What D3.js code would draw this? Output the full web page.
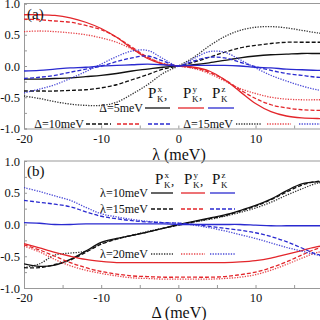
<!DOCTYPE html>
<html><head><meta charset="utf-8">
<script src="https://cdn.jsdelivr.net/npm/d3@7"></script>
<style>
body{margin:0;background:#fff;}
svg{display:block;font-family:"Liberation Serif","Times New Roman",serif;}
</style></head>
<body><svg id="c" width="320" height="320"></svg>
<script>
// ---------- DATA ----------
const grid = [-20,-18,-16,-14,-12,-10,-8,-6,-4,-2,0,2,4,6,8,10,12,14,16,18,20];
// Panel (a): vs lambda (meV), Delta = 5, 10, 15 meV
const aPx5  = [-0.21,-0.21,-0.2,-0.19,-0.17,-0.15,-0.12,-0.08,-0.05,-0.02,0,0.02,0.05,0.09,0.13,0.16,0.18,0.19,0.2,0.2,0.2];
const aPx10 = [-0.4,-0.4,-0.4,-0.39,-0.38,-0.35,-0.3,-0.22,-0.14,-0.05,0,0.06,0.14,0.22,0.29,0.33,0.36,0.38,0.38,0.38,0.38];
const aPx15 = [-0.48,-0.52,-0.57,-0.61,-0.63,-0.63,-0.58,-0.45,-0.3,-0.12,0,0.14,0.32,0.47,0.57,0.62,0.63,0.61,0.57,0.53,0.5];
const aPy5  = [0.82,0.82,0.81,0.77,0.7,0.6,0.46,0.28,0.12,0.03,0,-0.02,-0.08,-0.22,-0.41,-0.6,-0.73,-0.8,-0.83,-0.84,-0.84];
const aPy10 = [0.75,0.74,0.72,0.7,0.65,0.58,0.46,0.3,0.14,0.04,0,-0.03,-0.1,-0.22,-0.38,-0.52,-0.62,-0.67,-0.7,-0.71,-0.71];
const aPy15 = [0.55,0.56,0.55,0.53,0.5,0.45,0.38,0.27,0.14,0.04,0,-0.04,-0.12,-0.24,-0.36,-0.44,-0.5,-0.53,-0.54,-0.54,-0.54];
const aPz5  = [-0.08,-0.07,-0.05,-0.03,-0.02,0.0,0.01,0.02,0.03,0.02,0,0.01,0.01,0.01,0,-0.02,-0.03,-0.05,-0.06,-0.07,-0.07];
const aPz10 = [-0.2,-0.18,-0.15,-0.1,-0.05,0.0,0.07,0.13,0.16,0.08,0,0.08,0.14,0.13,0.06,-0.01,-0.07,-0.12,-0.15,-0.18,-0.19];
const aPz15 = [-0.43,-0.37,-0.3,-0.2,-0.09,0.03,0.15,0.24,0.25,0.12,0,0.12,0.23,0.22,0.1,-0.03,-0.15,-0.24,-0.32,-0.38,-0.41];
// Panel (b): vs Delta (meV), lambda = 10, 15, 20 meV
const bPx10 = [-0.62,-0.66,-0.64,-0.55,-0.42,-0.28,-0.22,-0.17,-0.12,-0.06,0.0,0.05,0.1,0.15,0.22,0.3,0.4,0.53,0.64,0.67,0.66];
const bPx15 = [-0.68,-0.68,-0.63,-0.56,-0.44,-0.31,-0.23,-0.17,-0.12,-0.06,-0.01,0.04,0.09,0.14,0.21,0.29,0.39,0.51,0.62,0.68,0.68];
const bPx20 = [-0.68,-0.62,-0.48,-0.45,-0.42,-0.3,-0.23,-0.17,-0.11,-0.06,-0.01,0.04,0.08,0.13,0.19,0.26,0.35,0.46,0.56,0.65,0.67];
const bPy10 = [-0.3,-0.37,-0.44,-0.5,-0.55,-0.58,-0.6,-0.6,-0.6,-0.6,-0.6,-0.6,-0.6,-0.6,-0.59,-0.57,-0.53,-0.47,-0.41,-0.35,-0.32];
const bPy15 = [-0.32,-0.4,-0.5,-0.6,-0.68,-0.74,-0.78,-0.81,-0.82,-0.83,-0.83,-0.83,-0.83,-0.82,-0.79,-0.75,-0.68,-0.59,-0.48,-0.38,-0.34];
const bPy20 = [-0.34,-0.43,-0.55,-0.65,-0.72,-0.77,-0.81,-0.84,-0.85,-0.86,-0.86,-0.86,-0.86,-0.85,-0.83,-0.79,-0.72,-0.63,-0.53,-0.44,-0.4];
const bPz10 = [0.03,0.02,0.0,0.0,0.01,0.01,0.01,0.01,0.01,0.01,0.0,0.0,0.0,0.0,0.0,-0.01,-0.02,-0.02,-0.02,-0.02,-0.02];
const bPz15 = [0.38,0.35,0.32,0.28,0.2,0.13,0.09,0.06,0.04,0.03,0.02,0.0,-0.03,-0.06,-0.09,-0.13,-0.19,-0.27,-0.37,-0.47,-0.52];
const bPz20 = [0.58,0.52,0.45,0.38,0.27,0.17,0.12,0.08,0.05,0.03,0.02,-0.01,-0.05,-0.1,-0.16,-0.22,-0.29,-0.36,-0.42,-0.48,-0.52];

const yTicks = [-1,-0.5,0,0.5,1];
const xTicks = [-20,-10,0,10];
const xMinor = [-20,-15,-10,-5,0,5,10,15,20];
const yMinor = [-1,-0.75,-0.5,-0.25,0,0.25,0.5,0.75,1];
const legendA1 = ["Δ=5meV"];
const legendA2 = ["Δ=10meV","Δ=15meV"];
const legendB = ["λ=10meV","λ=15meV","λ=20meV"];
const compLabels = ["x","y","z"];

// ---------- STYLE ----------
const colors = ["#111111","#e3262b","#2a2ad0"];
const dashes = [null,"4,2","1.3,1.3"];
const svg = d3.select("#c");

const x = d3.scaleLinear().domain([-20,20]).range([24,332.7]);
const ya = d3.scaleLinear().domain([-1,1]).range([128.5,3.5]);
const yb = d3.scaleLinear().domain([-1,1]).range([288,161]);

svg.append("defs").append("clipPath").attr("id","clip")
  .append("rect").attr("x",24).attr("y",0).attr("width",300).attr("height",320);

function panel(y, series, label, title, titleY){
  const top = y(1), bot = y(-1);
  svg.append("line").attr("x1",24).attr("x2",320).attr("y1",top).attr("y2",top)
    .attr("stroke","#999").attr("stroke-width",1);
  svg.append("g").attr("transform",`translate(0,${bot})`)
    .call(d3.axisBottom(x).tickValues(xMinor).tickSize(-3).tickFormat(""))
    .call(g=>{g.select(".domain").attr("stroke","#999");g.selectAll("line").attr("stroke","#999");});
  svg.append("g").attr("transform",`translate(0,${bot})`)
    .call(d3.axisBottom(x).tickValues(xTicks).tickSize(0).tickPadding(5.5).tickFormat(d=>String(d)))
    .call(g=>{g.select(".domain").remove();g.selectAll("text").attr("font-size",12.5).attr("fill","#111")
      .attr("font-family","Liberation Serif");});
  svg.append("g").attr("transform","translate(24,0)")
    .call(d3.axisLeft(y).tickValues(yMinor).tickSize(-3).tickFormat(""))
    .call(g=>{g.select(".domain").attr("stroke","#999");g.selectAll("line").attr("stroke","#999");});
  svg.append("g").attr("transform","translate(24,0)")
    .call(d3.axisLeft(y).tickValues(yTicks).tickSize(0).tickPadding(4).tickFormat(d=>d.toFixed(1)))
    .call(g=>{g.select(".domain").remove();g.selectAll("text").attr("font-size",12.5).attr("fill","#111")
      .attr("font-family","Liberation Serif");});
  const line = d3.line().x((d,i)=>x(grid[i])).y(d=>y(d)).curve(d3.curveCatmullRom.alpha(0.5));
  const gC = svg.append("g").attr("clip-path","url(#clip)");
  series.forEach(s=>{
    gC.append("path").datum(s.v).attr("d",line).attr("fill","none")
      .attr("stroke",colors[s.c]).attr("stroke-width",1.3)
      .attr("stroke-opacity", s.d===2?0.85:1)
      .attr("stroke-dasharray",dashes[s.d]);
  });
  svg.append("text").attr("x",27).attr("y",top+15).attr("font-size",15).attr("fill","#111").text(label);
  svg.append("text").attr("x",179).attr("y",titleY).attr("text-anchor","middle")
    .attr("font-size",16).attr("fill","#111").text(title);
}

panel(ya,[
 {v:aPx5,c:0,d:0},{v:aPx10,c:0,d:1},{v:aPx15,c:0,d:2},
 {v:aPy5,c:1,d:0},{v:aPy10,c:1,d:1},{v:aPy15,c:1,d:2},
 {v:aPz5,c:2,d:0},{v:aPz10,c:2,d:1},{v:aPz15,c:2,d:2}
],"(a)","λ (meV)",160);
panel(yb,[
 {v:bPx10,c:0,d:0},{v:bPx15,c:0,d:1},{v:bPx20,c:0,d:2},
 {v:bPy10,c:1,d:0},{v:bPy15,c:1,d:1},{v:bPy20,c:1,d:2},
 {v:bPz10,c:2,d:0},{v:bPz15,c:2,d:1},{v:bPz20,c:2,d:2}
],"(b)","Δ (meV)",318);

// ---------- LEGENDS ----------
function pLabel(px, base, comp, comma){
  const g = svg.append("g").attr("fill","#111");
  g.append("text").attr("x",px).attr("y",base).attr("font-size",15).text("P");
  g.append("text").attr("x",px+9.5).attr("y",base-6).attr("font-size",9).text(comp);
  g.append("text").attr("x",px+9).attr("y",base+4).attr("font-size",9).text("K");
  if(comma) g.append("text").attr("x",px+16).attr("y",base+1).attr("font-size",13).text(",");
}
function legLine(x1,x2,yy,c,d){
  svg.append("line").attr("x1",x1).attr("x2",x2).attr("y1",yy).attr("y2",yy)
   .attr("stroke",colors[c]).attr("stroke-width",1.3).attr("stroke-dasharray",dashes[d])
   .attr("stroke-opacity", d===2?0.85:1);
}
function legText(xr,yy,t){
  svg.append("text").attr("x",xr).attr("y",yy+4).attr("text-anchor","end")
   .attr("font-size",12).attr("fill","#111").text(t);
}
[148,183,212].forEach((px,i)=>pLabel(px,98,compLabels[i],i<2));
legText(143,108,legendA1[0]);
[[145,170],[178,204],[208,234]].forEach((p,i)=>legLine(p[0],p[1],108,i,0));
legText(84,124,legendA2[0]);
[[86,111],[117,141],[148,172]].forEach((p,i)=>legLine(p[0],p[1],124,i,1));
legText(233,124,legendA2[1]);
[[236,261],[267,291],[299,320]].forEach((p,i)=>legLine(p[0],p[1],124,i,2));
[155,184,212].forEach((px,i)=>pLabel(px,184,compLabels[i],i<2));
const rowsB=[193,209,254];
rowsB.forEach((yy,r)=>{
  legText(148,yy,legendB[r]);
  [[151,173],[181,205],[210,235]].forEach((p,i)=>legLine(p[0],p[1],yy,i,r));
});
</script></body></html>
